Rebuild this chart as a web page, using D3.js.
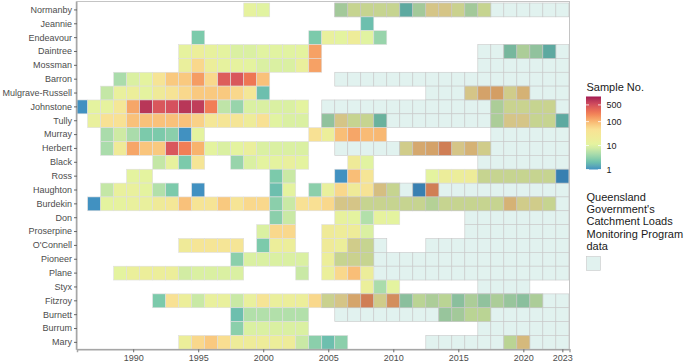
<!DOCTYPE html>
<html>
<head>
<meta charset="utf-8">
<script src="https://cdn.jsdelivr.net/npm/d3@7/dist/d3.min.js"></script>
<style>
  body { margin: 0; background: #fff; }
  text { font-family: "Liberation Sans", Arial, sans-serif; }
</style>
</head>
<body>
<svg id="chart" width="685" height="363"></svg>
<script>
const rivers = ["Normanby", "Jeannie", "Endeavour", "Daintree", "Mossman", "Barron",
  "Mulgrave-Russell", "Johnstone", "Tully", "Murray", "Herbert", "Black", "Ross",
  "Haughton", "Burdekin", "Don", "Proserpine", "O'Connell", "Pioneer", "Plane",
  "Styx", "Fitzroy", "Burnett", "Burrum", "Mary"];

// first year of each river's sample row
const firstYear = [1999, 2008, 1995, 1994, 1994, 1989, 1988, 1986, 1987, 1988, 1988, 1992, 1990,
  1988, 1987, 2001, 2000, 1994, 1998, 1989, 2008, 1992, 1998, 1998, 1994];

const _ = null;
// sample numbers per year, starting at firstYear (null = no samples)
const samples = [
  [12, 10, _, _, _, _, _, 6, 13, 13, 13, 13, 2, 6, 50, 50, 18, 6, 13],
  [2],
  [2.5, _, _, _, _, _, _, _, _, 2.5, 14, 11, 20, 10, 3.5],
  [12, 17, 13, 11, 9, 9, 10, 10, 10, 11, 140, _, _, _, _, _, _, _, _, _, _, _, _, _, _, 3, 7, 4.5, 2],
  [15, 58, 17, 12, 12, 11, 9, 9, 9, 15, 140],
  [4.5, 9, 11, 38, 75, 75, 150, 58, 400, 450, 250, 85],
  [6.5, 14, 17, 11, 22, 40, 58, 75, 75, 75, 58, 30, 2, _, _, _, _, _, _, _, _, _, _, _, _, _, _, _, 50, 100, 110, 30, 75],
  [1, 11, 12, 30, 130, 800, 450, 500, 800, 700, 220, 6, 3.5, 9, 9, 9, 9, 11, _, _, _, _, _, _, _, _, _, _, _, _, _, _, 7, 16, 16, 13, 16],
  [14, 45, 45, 85, 85, 85, 85, 85, 65, 30, 35, 35, 20, 45, 10, 9, 9, _, 4.5, 50, 13, 13, 2.5, _, _, _, _, _, _, _, _, 7, 50, 50, 13, 13, 2],
  [4.5, 7.5, 4.5, 2.5, 2.5, 3, 1, 11, _, _, _, _, _, _, _, _, 45, 17, 90, 130, 95, 100],
  [4.5, 22, 130, 80, 75, 450, 220, 110, 11, 9, 11, 15, 9, 9, 9, 9, _, _, _, _, _, _, _, 30, 90, 100, 180, 50, 75, 30],
  [6.5, 13, 2.5, 35, _, _, 3.5, 9, 11, 11, 14, 11, _, _, _, 22, 10],
  [11, 11, _, _, _, _, _, _, _, _, _, 2.5, 7, _, _, _, 1, 90, 35, _, _, _, _, 11, 18, 18, 20, 13, 13, 13, 13, 13, 13, 1],
  [6.5, 14, 14, 11, 5, 2.5, _, 1, _, _, _, _, _, 2, 11, _, 3, 14, 58, 22, 40, 58, 13, _, 1, 180],
  [1, 11, 12, 14, 14, 22, 30, 85, 38, 38, 75, 38, 58, 58, 3, 7, 45, 50, 58, 50, 50, 13, 15, 13, 13, 13, 8, 13, 13, 13, 13, 13, 75, 30, 30, 13],
  [3, 7, _, _, _, 13, 11, 5, 12, 11],
  [9, 58, 58, _, _, 22, 20, 20, 9],
  [22, 35, 35, 35, 35, _, 2.5, 17, 17, _, _, 22, 17, 30, 13],
  [3, 9, 9, 9, 9, 9, _, 17, 13, 18, 13],
  [11, 16, 17, 17, 17, 8, 9, 9, 9, 9, _, _, _, _, 7, _, 16, 58, 90, 18],
  [16, 4.5, 11],
  [2.5, 45, 17, 7, 14, 14, 7, 14, 38, 15, 17, 17, 58, 18, 50, 95, 180, 30, 140, 4, 9, 7, 9, 4, 7, 4.5, 7, 5, 4, 7],
  [2, 5, 5, 5, 5, 5, _, _, _, _, _, _, _, _, _, _, 5, 6, 9, 9],
  [3, 9, 9, 9, 9, 9],
  [17, 58, 75, 52, 20, 20, 20, 17, 20, 7, 3, 2, 3, _, _, _, _, _, _, _, _, _, _, _, _, 9, 65]
];

// Queensland Government's Catchment Loads Monitoring Program years [from, to]
const qldYears = [
  [[2006, 2023]], [], [], [[2017, 2023]], [[2017, 2023]], [[2006, 2023]],
  [[2013, 2023]], [[2005, 2023]], [[2005, 2023]], [[2018, 2023]], [[2006, 2023]], [[2017, 2023]],
  [[2017, 2023]], [[2009, 2023]], [[2006, 2023]], [[2016, 2023]], [[2016, 2023]],
  [[2007, 2009], [2013, 2023]], [[2006, 2023]], [[2009, 2023]], [[2017, 2020]], [[2005, 2023]],
  [[2006, 2023]], [[2017, 2023]], [[2013, 2023]]
];

const xTicks = [1990, 1995, 2000, 2005, 2010, 2015, 2020, 2023];
const legendTicks = [1, 10, 100, 500];

const spectral = ["#3288BD", "#66C2A5", "#ABDDA4", "#E6F598", "#F4EB8F",
  "#FEE08B", "#FDAE61", "#F46D43", "#D53E4F", "#9E0142"];
const logMax = 3.05;
const qldFill = "#e1f2ef";

const panel = {left: 77, right: 569.5, top: 3, bottom: 349.3};

const svg = d3.select("#chart");

const x = d3.scaleLinear()
  .domain([1985.68, 2023.55])
  .range([panel.left, panel.right]);

const y = d3.scaleBand()
  .domain(rivers)
  .range([panel.top, panel.bottom]);

const colorLog = d3.scaleLinear()
  .domain(spectral.map((c, i) => i * logMax / (spectral.length - 1)))
  .range(spectral)
  .interpolate(d3.interpolateLab)
  .clamp(true);

// slightly faded fill, as in the original
function fade(c) {
  const a = 0.9;
  return [c.r * a + 255 * (1 - a) * 0.8, c.g * a + 255 * (1 - a) * 0.9, c.b * a + 255 * (1 - a) * 0.9];
}

// tiles over the QLD tiles come out darker
function tileColor(v, onQld) {
  let [r, g, b] = fade(d3.rgb(colorLog(Math.log10(v))));
  if (onQld) {
    const q = d3.rgb(qldFill);
    r = r * q.r / 255 * 0.97; g = g * q.g / 255 * 0.93; b = b * q.b / 255 * 0.98;
  }
  return d3.rgb(r, g, b).formatHex();
}

function isQld(i, year) {
  return qldYears[i].some(([a, b]) => year >= a && year <= b);
}

const qldCells = [];
const sampleCells = [];
rivers.forEach((river, i) => {
  qldYears[i].forEach(([a, b]) => {
    for (let yr = a; yr <= b; yr++) qldCells.push({river, year: yr});
  });
  samples[i].forEach((v, j) => {
    if (v !== null) sampleCells.push({river, year: firstYear[i] + j, value: v, qld: isQld(i, firstYear[i] + j)});
  });
});

svg.append("clipPath").attr("id", "clip")
  .append("rect")
  .attr("x", panel.left).attr("y", panel.top - 1)
  .attr("width", panel.right - panel.left)
  .attr("height", panel.bottom - panel.top + 1);

const tiles = svg.append("g").attr("clip-path", "url(#clip)");

tiles.selectAll("rect.qld")
  .data(qldCells)
  .join("rect")
  .attr("class", "qld")
  .attr("x", d => x(d.year - 0.5))
  .attr("y", d => y(d.river))
  .attr("width", x(1) - x(0))
  .attr("height", y.bandwidth())
  .attr("fill", qldFill)
  .attr("stroke", "#c8c8c8")
  .attr("stroke-width", 0.6);

tiles.selectAll("rect.sample")
  .data(sampleCells)
  .join("rect")
  .attr("class", "sample")
  .attr("x", d => x(d.year - 0.5))
  .attr("y", d => y(d.river))
  .attr("width", x(1) - x(0))
  .attr("height", y.bandwidth())
  .attr("fill", d => tileColor(d.value, d.qld))
  .attr("stroke", d => d.qld ? "#c8c8c8" : "#dedede")
  .attr("stroke-width", 0.6);

// panel border
svg.append("rect")
  .attr("x", panel.left).attr("y", 1.5)
  .attr("width", panel.right - panel.left)
  .attr("height", panel.bottom - 1.5)
  .attr("fill", "none")
  .attr("stroke", "#c4c4c4")
  .attr("stroke-width", 1);

const yAxis = svg.append("g")
  .attr("transform", `translate(${panel.left},0)`)
  .call(d3.axisLeft(y).tickSize(3).tickPadding(2));

const xAxis = svg.append("g")
  .attr("transform", `translate(0,${panel.bottom})`)
  .call(d3.axisBottom(x).tickValues(xTicks).tickFormat(d3.format("d")).tickSize(3).tickPadding(2));

[yAxis, xAxis].forEach(g => {
  g.select(".domain").attr("stroke", "#a6a6a6").attr("stroke-width", 1.5);
  g.selectAll(".tick line").attr("stroke", "#666");
  g.selectAll(".tick text").attr("fill", "#4d4d4d").attr("font-size", 9)
    .attr("font-family", "Liberation Sans, Arial, sans-serif");
});
yAxis.select(".domain").attr("d", `M-0.5,1.5V${panel.bottom + 0.5}`);

// legend: Sample No.
const legend = svg.append("g");
legend.append("text")
  .attr("x", 586.5).attr("y", 90.5)
  .attr("font-size", 11).attr("fill", "#1a1a1a")
  .text("Sample No.");

const barTop = 96.5, barBottom = 169.5, barX = 586, barW = 15;
const barScale = d3.scaleLinear().domain([0, logMax]).range([barBottom, barTop]);

const grad = svg.append("defs").append("linearGradient")
  .attr("id", "bar-grad")
  .attr("x1", 0).attr("y1", 1).attr("x2", 0).attr("y2", 0);
d3.range(0, 1.0001, 0.05).forEach(t => {
  const [r, g, b] = fade(d3.rgb(colorLog(t * logMax)));
  grad.append("stop")
    .attr("offset", t)
    .attr("stop-color", d3.rgb(r, g, b).formatHex());
});

legend.append("rect")
  .attr("x", barX).attr("y", barTop)
  .attr("width", barW).attr("height", barBottom - barTop)
  .attr("fill", "url(#bar-grad)");

legendTicks.forEach(v => {
  const ty = barScale(Math.log10(v));
  legend.append("line")
    .attr("x1", barX).attr("x2", barX + 3)
    .attr("y1", ty).attr("y2", ty)
    .attr("stroke", "#fff").attr("stroke-width", 0.8);
  legend.append("line")
    .attr("x1", barX + barW - 3).attr("x2", barX + barW)
    .attr("y1", ty).attr("y2", ty)
    .attr("stroke", "#fff").attr("stroke-width", 0.8);
  legend.append("text")
    .attr("x", 606.5).attr("y", ty)
    .attr("dy", "0.35em")
    .attr("font-size", 9).attr("fill", "#1a1a1a")
    .text(v);
});

// legend: QLD program
const qldTitle = ["Queensland", "Government's", "Catchment Loads", "Monitoring Program", "data"];
legend.append("text")
  .attr("x", 586.5).attr("y", 200.5)
  .attr("font-size", 11).attr("fill", "#1a1a1a")
  .selectAll("tspan")
  .data(qldTitle)
  .join("tspan")
  .attr("x", 586.5)
  .attr("dy", (d, i) => i === 0 ? 0 : 12.4)
  .text(d => d);

legend.append("rect")
  .attr("x", 586.5).attr("y", 256.5)
  .attr("width", 14).attr("height", 14)
  .attr("fill", qldFill)
  .attr("stroke", "#c8c8c8")
  .attr("stroke-width", 0.6);
</script>
</body>
</html>
